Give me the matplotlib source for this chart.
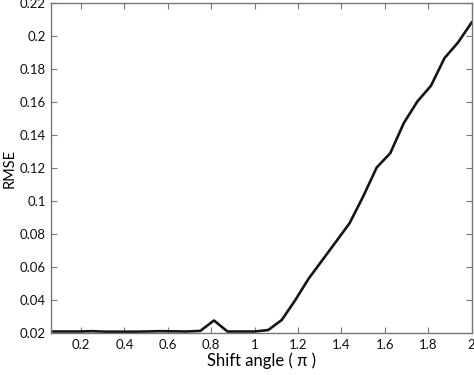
import numpy as np
import matplotlib
matplotlib.use("Agg")
import matplotlib.pyplot as plt

plt.rcParams["font.family"] = ["Lato", "DejaVu Sans"]

# shift angle in units of pi, steps of pi/16
shift_angle = [k / 16 for k in range(1, 33)]
rmse = [
    0.0209, 0.0209, 0.0209, 0.0211, 0.0208, 0.0208, 0.0208, 0.0209,
    0.0211, 0.0210, 0.0209, 0.0213, 0.0276, 0.0209, 0.0209, 0.0209,
    0.0218, 0.0279, 0.0400, 0.0532, 0.0643, 0.0754, 0.0866, 0.1028,
    0.1204, 0.1291, 0.1474, 0.1605, 0.1700, 0.1868, 0.1963, 0.2084,
]
x_ticks = [0.2, 0.4, 0.6, 0.8, 1.0, 1.2, 1.4, 1.6, 1.8, 2.0]
x_tick_labels = ["0.2", "0.4", "0.6", "0.8", "1", "1.2", "1.4", "1.6", "1.8", "2"]
y_ticks = [0.02, 0.04, 0.06, 0.08, 0.10, 0.12, 0.14, 0.16, 0.18, 0.20, 0.22]
y_tick_labels = ["0.02", "0.04", "0.06", "0.08", "0.1", "0.12", "0.14",
                 "0.16", "0.18", "0.2", "0.22"]

fig = plt.figure(figsize=(4.74, 3.75), dpi=100)
ax = fig.add_axes([0.108, 0.112, 0.887, 0.879])

ax.plot(shift_angle, rmse, color="#151515", linewidth=1.9)

ax.set_xlim(0.0625, 2.0)
ax.set_ylim(0.02, 0.22)
ax.set_xticks(x_ticks)
ax.set_xticklabels(x_tick_labels)
ax.set_yticks(y_ticks)
ax.set_yticklabels(y_tick_labels)

for s in ax.spines.values():
    s.set_color("#777777")
    s.set_linewidth(1.0)
ax.tick_params(direction="in", length=4, width=0.8, color="#777777",
               top=True, right=True, labelsize=9.5, pad=4, labelcolor="#111111")

ax.set_xlabel("Shift angle ( π )", fontsize=12, labelpad=1)
ax.set_ylabel("RMSE", fontsize=10.5, labelpad=2)

fig.savefig("out.png", dpi=100)
